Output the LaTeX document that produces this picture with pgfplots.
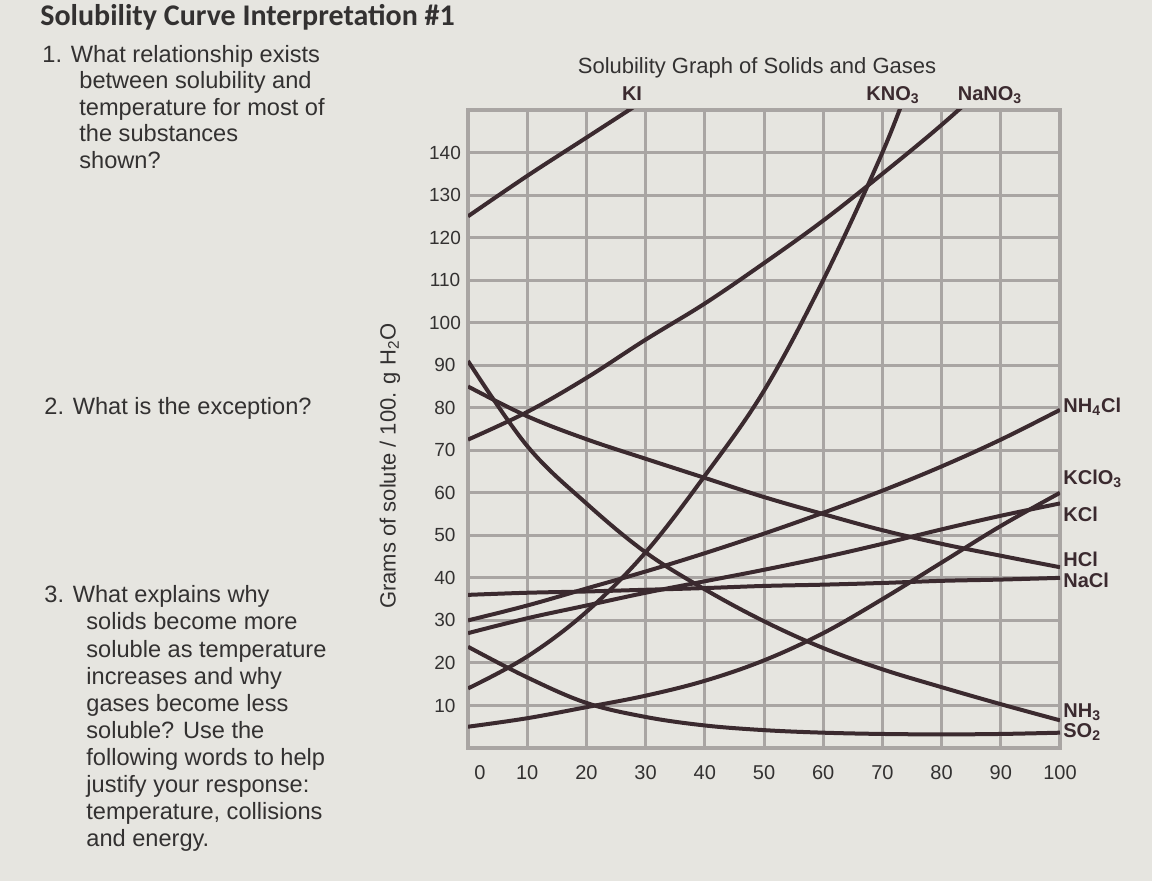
\documentclass[border=0pt]{standalone}
\usepackage{fontspec}
\setmainfont{Liberation Sans}
\newfontfamily\carlito{Carlito}
\usepackage{pgfplots}
\pgfplotsset{compat=1.18}
\definecolor{bg}{HTML}{E6E5E0}
\definecolor{gridc}{HTML}{A9A5A3}
\definecolor{ink}{HTML}{3B2A2F}
\definecolor{txt}{HTML}{333131}
\newcommand\qfont{\fontsize{11.8}{13.5}\selectfont}
\newcommand\lab{\bfseries\fontsize{10}{12}\selectfont}

\begin{document}
\begin{tikzpicture}
\fill[bg] (0,0) rectangle (576pt,-440.5pt);

\begin{axis}[
  at={(234pt,-374pt)}, anchor=south west,
  scale only axis, width=296pt, height=319pt,
  xmin=0, xmax=100, ymin=0, ymax=150,
  xtick={0,10,...,100},
  xticklabels={{\hspace*{12pt}0},10,20,30,40,50,60,70,80,90,100},
  ytick={10,20,...,140},
  grid=major,
  major grid style={line width=1.5pt, gridc},
  axis line style={line width=2pt, gridc},
  major tick length=0pt,
  tick style={draw=none},
  /pgf/number format/assume math mode=true,
  xticklabel style={anchor=center, yshift=-12.5pt, font=\fontsize{10}{12}\selectfont, text=txt},
  yticklabel style={anchor=center, xshift=-11.5pt, font=\fontsize{9.5}{11}\selectfont, text=txt},
  every axis plot post/.append style={ink, solid, line width=2pt, smooth, tension=0.6, mark=none},
]
% KI
\addplot coordinates {(0,125) (10,134.5) (20,143.5) (30,152.5)};
% NaNO3
\addplot coordinates {(0,72.5) (10,79) (20,87) (30,96) (40,104.5) (50,114) (60,124) (70,135) (80,146.5) (90,159)};
% KNO3
\addplot coordinates {(0,14) (10,21.5) (20,32) (30,46) (40,64) (50,84) (60,110) (70,140) (75,158)};
% NH4Cl
\addplot coordinates {(0,30) (10,33.5) (20,37.5) (30,41.5) (40,45.8) (50,50.4) (60,55.3) (70,60.5) (80,66.2) (90,72.5) (100,79.5)};
% KCl
\addplot coordinates {(0,27) (10,30.5) (20,33.5) (30,36.5) (40,39.2) (50,41.9) (60,44.8) (70,48) (80,51.4) (90,54.6) (100,57.5)};
% NaCl
\addplot coordinates {(0,36) (10,36.5) (20,36.8) (30,37.2) (40,37.6) (50,38.1) (60,38.4) (70,38.8) (80,39.3) (90,39.6) (100,40)};
% HCl
\addplot coordinates {(0,85) (10,78) (20,72.6) (30,68) (40,63.5) (50,59) (60,55) (70,51.2) (80,48) (90,45.2) (100,42.5)};
% KClO3
\addplot coordinates {(0,5) (10,7) (20,9.6) (30,12.3) (40,15.8) (50,20.6) (60,27) (70,35) (80,43.6) (90,52.2) (100,60)};
% NH3
\addplot coordinates {(0,91) (10,71) (20,57.5) (30,46) (40,37.3) (50,29.8) (60,23.5) (70,18.5) (80,14.3) (90,10.3) (100,6.5)};
% SO2
\addplot coordinates {(0,23.8) (10,16.6) (20,10.6) (30,7.3) (40,5.3) (50,4.2) (60,3.6) (70,3.3) (80,3.2) (90,3.3) (100,3.6)};
\end{axis}

% chart texts
\node[anchor=base, font=\fontsize{11}{13}\selectfont, text=txt] at (378.5pt,-37pt) {Solubility Graph of Solids and Gases};
\node[anchor=base, font=\lab, text=ink] at (316pt,-50.5pt) {KI};
\node[anchor=base, font=\lab, text=ink] at (446.5pt,-50.5pt) {KNO\textsubscript{3}};
\node[anchor=base, font=\lab, text=ink] at (495pt,-50.5pt) {NaNO\textsubscript{3}};
\node[anchor=base west, font=\lab, text=ink, inner sep=0pt] at (531.5pt,-206.5pt) {NH\textsubscript{4}Cl};
\node[anchor=base west, font=\lab, text=ink, inner sep=0pt] at (531.5pt,-242.5pt) {KClO\textsubscript{3}};
\node[anchor=base west, font=\lab, text=ink, inner sep=0pt] at (531.5pt,-261pt) {KCl};
\node[anchor=base west, font=\lab, text=ink, inner sep=0pt] at (531.5pt,-283.5pt) {HCl};
\node[anchor=base west, font=\lab, text=ink, inner sep=0pt] at (531.5pt,-294pt) {NaCl};
\node[anchor=base west, font=\lab, text=ink, inner sep=0pt] at (531.5pt,-359pt) {NH\textsubscript{3}};
\node[anchor=base west, font=\lab, text=ink, inner sep=0pt] at (531.5pt,-369pt) {SO\textsubscript{2}};
\node[rotate=90, font=\fontsize{11}{13}\selectfont, text=txt] at (195pt,-233pt) {Grams of solute / 100. g H\textsubscript{2}O};

% worksheet texts
\node[anchor=base west, inner sep=0pt, font=\carlito\bfseries\fontsize{15}{18}\selectfont, text=txt] at (20pt,-13pt) {Solubility Curve Interpretation \#1};
\node[anchor=base west, inner sep=0pt, font=\qfont, text=txt] at (21pt,-31.5pt) {1. What relationship exists};
\foreach \t [count=\i from 0] in {between solubility and, temperature for most of, the substances, shown?}
  \node[anchor=base west, inner sep=0pt, font=\qfont, text=txt] at (39.5pt,{-44.5pt-\i*13.2pt}) {\t};
\node[anchor=base west, inner sep=0pt, font=\qfont, text=txt] at (22pt,-207.5pt) {2. What is the exception?};
\node[anchor=base west, inner sep=0pt, font=\qfont, text=txt] at (22pt,-301.5pt) {3. What explains why};
\foreach \t [count=\i from 0] in {solids become more, soluble as temperature, increases and why, gases become less, soluble? Use the, following words to help, justify your response:, {temperature, collisions}, and energy.}
  \node[anchor=base west, inner sep=0pt, font=\qfont, text=txt] at (43pt,{-315pt-\i*13.55pt}) {\t};
\end{tikzpicture}
\end{document}
